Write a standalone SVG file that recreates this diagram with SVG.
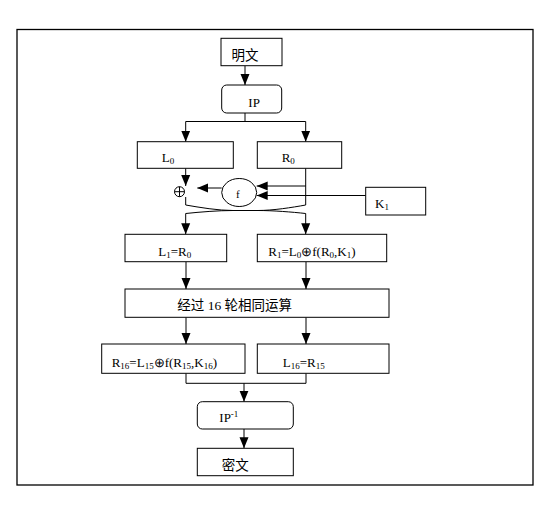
<svg xmlns="http://www.w3.org/2000/svg" width="549" height="518" viewBox="0 0 549 518">
<style>
.box{fill:#fff;stroke:#000;stroke-width:1}
.ln{fill:none;stroke:#000;stroke-width:1}
.t{font-family:"Liberation Serif","Times New Roman",serif;font-size:13px;fill:#000}
.c{font-family:"Liberation Serif","Noto Sans CJK SC",serif;font-size:13.5px;fill:#000}
.s{font-size:9px}
</style>
<defs>
<marker id="ah" markerUnits="userSpaceOnUse" markerWidth="12" markerHeight="12" viewBox="0 0 12 12" refX="11" refY="6" orient="auto">
<path d="M0,1.5 L11,6 L0,10.5 Z" fill="#000"/>
</marker>
</defs>
<rect x="0" y="0" width="549" height="518" fill="#fff"/>
<rect id="frame" x="17" y="29.5" width="516" height="455.5" fill="none" stroke="#000" stroke-width="1.3"/>

<g id="connectors">
<path class="ln" d="M245,66 V85" marker-end="url(#ah)"/>
<path class="ln" d="M245,113 V121.5 M185.7,121.5 H305.7"/>
<path class="ln" d="M185.7,121.5 V141.7" marker-end="url(#ah)"/>
<path class="ln" d="M305.7,121.5 V141.7" marker-end="url(#ah)"/>
<path class="ln" d="M185.7,168.3 V186" marker-end="url(#ah)"/>
<path class="ln" d="M221.7,188 H197.3" marker-end="url(#ah)"/>
<path class="ln" d="M305.7,168.3 V205 M305.7,186 H256.7" marker-end="url(#ah)"/>
<path class="ln" d="M365.7,195.5 H256.7" marker-end="url(#ah)"/>
<path class="ln" d="M185.7,197 V205 C200,207.5 218,210.5 233,210.5 H258 C273,210.5 292,212 305.7,213.5 V234.3" marker-end="url(#ah)"/>
<path class="ln" d="M305.7,205 C292,207.5 273,210.5 258,210.5 H233 C218,210.5 200,212 185.7,213.5 V234.3" marker-end="url(#ah)"/>
<path class="ln" d="M233,210.5 H258" stroke-width="2"/>
<path class="ln" d="M186,261.7 V289" marker-end="url(#ah)"/>
<path class="ln" d="M306,261.7 V289" marker-end="url(#ah)"/>
<path class="ln" d="M186,317.3 V344" marker-end="url(#ah)"/>
<path class="ln" d="M306,317.3 V344" marker-end="url(#ah)"/>
<path class="ln" d="M186,373.3 V383.3 H306 V373.3"/>
<path class="ln" d="M244,383.3 V401.7" marker-end="url(#ah)"/>
<path class="ln" d="M244,429 V448.3" marker-end="url(#ah)"/>
</g>

<g id="plaintext">
<rect class="box" x="221" y="38.3" width="61" height="27.4"/>
<text class="c" x="231.5" y="60">明文</text>
</g>
<g id="ip">
<rect class="box" x="221.7" y="85" width="60" height="28" rx="5"/>
<text class="t" x="248.3" y="106.7">IP</text>
</g>
<g id="l0">
<rect class="box" x="137.3" y="141.7" width="96" height="26.6"/>
<text class="t" x="161.7" y="161.7">L<tspan class="s" dy="2">0</tspan></text>
</g>
<g id="r0">
<rect class="box" x="257.3" y="141.7" width="84.4" height="26.6"/>
<text class="t" x="281.7" y="161.7">R<tspan class="s" dy="2">0</tspan></text>
</g>
<g id="xor">
<circle cx="179.5" cy="191.7" r="5" fill="#fff" stroke="#000" stroke-width="1"/>
<path class="ln" d="M174.5,191.7 H184.5 M179.5,186.7 V196.7"/>
</g>
<g id="f">
<ellipse cx="239.2" cy="192.5" rx="17.5" ry="14" fill="#fff" stroke="#000" stroke-width="1"/>
<text class="t" x="236" y="198" style="font-size:11px">f</text>
</g>
<g id="k1">
<rect class="box" x="365.7" y="187.3" width="60" height="27.7"/>
<text class="t" x="375" y="208.3">K<tspan class="s" dy="2">1</tspan></text>
</g>
<g id="l1">
<rect class="box" x="125" y="234.3" width="101.7" height="27.4"/>
<text class="t" x="158.3" y="255.7">L<tspan class="s" dy="2">1</tspan><tspan dy="-2">=R</tspan><tspan class="s" dy="2">0</tspan></text>
</g>
<g id="r1">
<rect class="box" x="257.3" y="234.3" width="129.4" height="27.4"/>
<text class="t" x="268.3" y="255.7">R<tspan class="s" dy="2">1</tspan><tspan dy="-2">=L</tspan><tspan class="s" dy="2">0</tspan><tspan dy="-2">⊕f(R</tspan><tspan class="s" dy="2">0</tspan><tspan dy="-2">,K</tspan><tspan class="s" dy="2">1</tspan><tspan dy="-2">)</tspan></text>
</g>
<g id="rounds">
<rect class="box" x="125" y="289" width="264" height="28.3"/>
<text class="c" x="177.3" y="310">经过 16 轮相同运算</text>
</g>
<g id="r16">
<rect class="box" x="101.7" y="344" width="143.3" height="29.3"/>
<text class="t" x="111.7" y="366.7">R<tspan class="s" dy="2">16</tspan><tspan dy="-2">=L</tspan><tspan class="s" dy="2">15</tspan><tspan dy="-2">⊕f(R</tspan><tspan class="s" dy="2">15</tspan><tspan dy="-2">,K</tspan><tspan class="s" dy="2">16</tspan><tspan dy="-2">)</tspan></text>
</g>
<g id="l16">
<rect class="box" x="257.3" y="344" width="131.7" height="29.3"/>
<text class="t" x="282.7" y="366.7">L<tspan class="s" dy="2">16</tspan><tspan dy="-2">=R</tspan><tspan class="s" dy="2">15</tspan></text>
</g>
<g id="ipinv">
<rect class="box" x="197.3" y="401.7" width="96" height="27.3" rx="5"/>
<text class="t" x="219.3" y="421.7">IP<tspan class="s" dy="-5">-1</tspan></text>
</g>
<g id="ciphertext">
<rect class="box" x="197.3" y="448.3" width="96" height="27.4"/>
<text class="c" x="221.7" y="470">密文</text>
</g>
</svg>
